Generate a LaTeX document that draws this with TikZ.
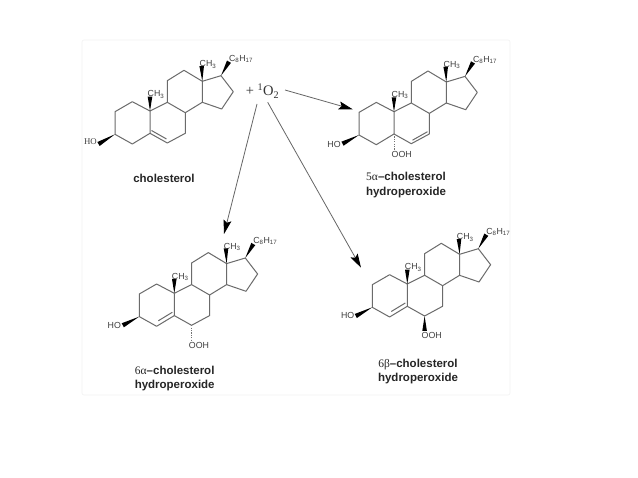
\documentclass[tikz,border=0pt]{standalone}
\usepackage{fontspec}
\setmainfont{Liberation Sans}
\newfontfamily\serifgreek{Liberation Serif}
\usepackage{tikz}
\usetikzlibrary{arrows.meta,calc}

\tikzset{
    bond/.style={line width=1pt, color=black!58, line join=round},
    arrowline/.style={line width=0.8pt, color=black!60, -{Stealth[length=14pt,width=8pt,inset=2.5pt,color=black]}},
    wedgebond/.style={fill=black},
    hashbond/.style={line width=0.9pt, color=black!55, dash pattern=on 1.2pt off 1.2pt},
    atomlabel/.style={font=\fontsize{8.8}{8.8}\selectfont, text=black!75, inner sep=0pt},
    namelabel/.style={font=\fontsize{11.5}{14.5}\selectfont\bfseries, text=black!85, align=center, inner sep=0pt}
}

% solid wedge, narrow at the first point
\newcommand{\wedgeto}[2]{
    \fill[wedgebond] (#1) -- ($(#2)!2.3pt!90:(#1)$) -- ($(#2)!2.3pt!-90:(#1)$) -- cycle;
}

% four-ring skeleton, origin on the ring junction under the methyl
\newcommand{\steroidrings}{
    \coordinate (c1) at (-17.7,-9.3);
    \coordinate (c2) at (-35,0.7);
    \coordinate (c3) at (-35,23.3);
    \coordinate (c4) at (-17.7,33);
    \coordinate (c5) at (0,22.3);
    \coordinate (c6) at (17.3,32);
    \coordinate (c7) at (35.3,22.3);
    \coordinate (c8) at (35.3,1.7);
    \coordinate (c9) at (17.3,-8.7);
    \coordinate (c10) at (0,0);
    \coordinate (c11) at (17.3,-30.3);
    \coordinate (c12) at (34,-40.7);
    \coordinate (c13) at (52.3,-29.7);
    \coordinate (c14) at (52.3,-8.7);
    \coordinate (c15) at (71.7,-2);
    \coordinate (c16) at (83.3,-19.3);
    \coordinate (c17) at (71,-35.3);
    \coordinate (c18) at (51.7,-45);
    \coordinate (c19) at (0,-14.3);
    \coordinate (c20) at (79,-49.3);
    \draw[bond] (c10) -- (c1) -- (c2) -- (c3) -- (c4) -- (c5) -- (c10);
    \draw[bond] (c5) -- (c6) -- (c7) -- (c8) -- (c9) -- (c10);
    \draw[bond] (c9) -- (c11) -- (c12) -- (c13) -- (c14) -- (c8);
    \draw[bond] (c13) -- (c17) -- (c16) -- (c15) -- (c14);
    \wedgeto{c10}{c19}
    \wedgeto{c13}{c18}
    \wedgeto{c17}{c20}
    \node[atomlabel] (me19) at (6,-16.5) {CH\textsubscript{3}};
    \node[atomlabel] (me18) at (58,-46.5) {CH\textsubscript{3}};
    \node[atomlabel] (side) at (91,-52) {C\textsubscript{8}H\textsubscript{17}};
}

\begin{document}
\begin{tikzpicture}[x=1pt,y=-1pt]
    \useasboundingbox (0,0) rectangle (638,478);
    \fill[white] (0,0) rectangle (638,478);
    \draw[line width=0.6pt, color=black!5, rounded corners=2pt] (82,40) rectangle (510,395);

    % cholesterol
    \begin{scope}[shift={(150,111)}]
        \steroidrings
        \draw[bond] (1.5,19.5) -- (16.5,28);
        \coordinate (ho) at (-51.5,33);
        \wedgeto{c3}{ho}
        \node[atomlabel, font=\fontsize{8.8}{8.8}\selectfont\serifgreek] (cholho) at (-59.5,30.7) {HO};
    \end{scope}
    \node[namelabel] (chol) at (164,178.5) {cholesterol};

    % 5 alpha
    \begin{scope}[shift={(394,111.7)}]
        \steroidrings
        \draw[bond] (18.5,28.5) -- (33.5,20);
        \coordinate (ho) at (-51.5,32);
        \wedgeto{c3}{ho}
        \node[atomlabel] (fiveho) at (-60,32.6) {HO};
        \coordinate (ooh) at (0,38);
        \draw[hashbond] (c5) -- (ooh);
        \node[atomlabel] (fiveooh) at (7.7,42.6) {OOH};
    \end{scope}
    \node[namelabel] (five) at (406,185.2) {{\serifgreek\mdseries 5α}–cholesterol\\hydroperoxide};

    % 6 alpha
    \begin{scope}[shift={(174.3,293.3)}]
        \steroidrings
        \draw[bond] (-2,19) -- (-16,27.5);
        \coordinate (ho) at (-51.5,32);
        \wedgeto{c3}{ho}
        \node[atomlabel] (sixaho) at (-60,31.7) {HO};
        \coordinate (ooh) at (17.3,46.5);
        \draw[hashbond] (c6) -- (ooh);
        \node[atomlabel] (sixaooh) at (24.7,52.4) {OOH};
    \end{scope}
    \node[namelabel] (sixa) at (174.7,378.7) {{\serifgreek\mdseries 6α}–cholesterol\\hydroperoxide};

    % 6 beta
    \begin{scope}[shift={(407.3,284)}]
        \steroidrings
        \draw[bond] (-2,19) -- (-16,27.5);
        \coordinate (ho) at (-51.5,32);
        \wedgeto{c3}{ho}
        \node[atomlabel] (sixbho) at (-59.6,31) {HO};
        \coordinate (ooh) at (17.3,47);
        \wedgeto{c6}{ooh}
        \node[atomlabel] (sixbooh) at (24.4,51.7) {OOH};
    \end{scope}
    \node[namelabel] (sixb) at (418,371.3) {{\serifgreek\mdseries 6β}–cholesterol\\hydroperoxide};

    % singlet oxygen and the three arrows
    \node[inner sep=0pt, font=\fontsize{14.5}{14.5}\selectfont\serifgreek, text=black!80] (oxygen) at (262.5,91) {+ \textsuperscript{1}O\textsubscript{2}};
    \coordinate (fivetip) at (352.7,109.3);
    \coordinate (sixatip) at (224,234);
    \coordinate (sixbtip) at (361,267.7);
    \coordinate (fivetail) at (285,90);
    \coordinate (sixatail) at (257,104);
    \coordinate (sixbtail) at (267.7,102.3);
    \draw[arrowline] (fivetail) -- (fivetip);
    \draw[arrowline] (sixatail) -- (sixatip);
    \draw[arrowline] (sixbtail) -- (sixbtip);
\end{tikzpicture}
\end{document}
